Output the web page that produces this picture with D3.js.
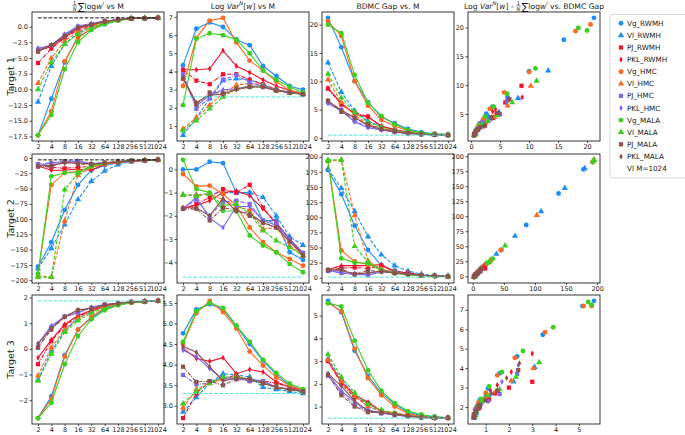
<!DOCTYPE html>
<html><head><meta charset="utf-8">
<script src="https://cdn.jsdelivr.net/npm/d3@7"></script>
<style>
body{margin:0;background:#fff}
text{font-family:"DejaVu Sans",sans-serif;fill:#1a1a1a;white-space:pre}
</style>
</head><body>
<svg id="c" width="685" height="435"></svg>
<script>
// ---------------- DATA ----------------
const M = [2,4,8,16,32,64,128,256,512,1024];
const seriesNames = ["Vg_RWMH","Vl_RWMH","PJ_RWMH","PKL_RWMH","Vg_HMC","Vl_HMC","PJ_HMC","PKL_HMC","Vg_MALA","Vl_MALA","PJ_MALA","PKL_MALA"];
const refLabel = "Vl M=1024";
const targetLabels = ["Target 1","Target 2","Target 3"];

// Target 1
const t1LogW = [
 [-17.3,-11.5,-5.7,-1.5,-0.5,0.4,1.0,1.3,1.35,1.4],
 [-12.0,-6.3,-2.8,-1.0,0.0,0.6,1.1,1.3,1.35,1.4],
 [-5.8,-3.5,-1.8,-0.5,0.2,0.8,1.1,1.3,1.35,1.4],
 [-3.8,-3.2,-1.7,-0.3,0.3,0.8,1.1,1.3,1.35,1.4],
 [-17.3,-13.5,-5.5,-1.8,-0.3,0.5,1.0,1.3,1.35,1.4],
 [-9.0,-5.0,-2.3,-0.8,0.1,0.7,1.1,1.3,1.35,1.4],
 [-3.7,-3.0,-1.3,0.0,0.4,0.9,1.1,1.3,1.35,1.4],
 [-3.4,-3.0,-1.2,0.1,0.5,0.9,1.1,1.3,1.35,1.4],
 [-17.3,-14.1,-6.8,-2.5,-0.5,0.4,1.0,1.3,1.35,1.4],
 [-10.0,-5.7,-2.8,-1.2,-0.1,0.6,1.0,1.3,1.35,1.4],
 [-4.0,-3.0,-1.6,-0.2,0.3,0.8,1.1,1.3,1.35,1.4],
 [-3.8,-2.9,-1.5,-0.1,0.4,0.85,1.1,1.3,1.35,1.4]
];
const t1LogVar = [
 [4.35,6.35,6.7,6.45,5.75,5.45,4.3,3.75,3.2,3.0],
 [0.5,1.45,2.5,3.5,3.6,3.55,3.3,3.0,2.85,2.75],
 [4.1,3.5,3.3,3.85,3.85,3.55,3.3,3.0,2.85,2.75],
 [4.1,4.1,4.15,5.15,4.3,3.95,3.55,3.2,2.95,2.8],
 [3.2,5.85,6.8,6.95,5.6,4.6,4.05,3.45,2.95,2.8],
 [0.85,1.45,2.15,2.8,3.25,3.35,3.25,3.0,2.85,2.75],
 [3.85,1.95,2.55,3.55,3.8,3.4,3.2,3.0,2.85,2.75],
 [3.7,2.1,2.7,3.0,3.05,3.2,3.2,2.95,2.85,2.75],
 [2.15,5.8,6.1,6.0,5.75,5.0,4.05,3.55,3.15,2.85],
 [0.75,1.3,1.95,2.6,3.05,3.15,3.2,2.95,2.85,2.75],
 [3.6,2.2,2.85,2.8,3.05,3.15,3.15,2.95,2.85,2.75],
 [3.65,2.3,2.7,2.75,3.0,3.15,3.15,2.95,2.85,2.75]
];
const t1Gap = [
 [21.2,16.0,10.0,6.3,3.7,2.6,1.6,1.0,0.75,0.6],
 [13.3,8.1,4.8,3.0,2.0,1.4,1.1,0.8,0.65,0.55],
 [8.7,5.9,4.4,3.8,2.0,1.4,1.0,0.75,0.6,0.55],
 [8.8,6.1,4.2,3.7,2.1,1.5,1.0,0.75,0.6,0.55],
 [20.6,18.0,10.0,5.7,3.2,2.1,1.3,0.8,0.65,0.55],
 [10.3,6.3,4.0,2.5,1.7,1.2,0.9,0.7,0.6,0.55],
 [6.3,5.0,3.0,2.0,1.5,1.1,0.8,0.65,0.55,0.5],
 [6.1,4.8,2.8,1.8,1.4,1.0,0.8,0.65,0.55,0.5],
 [20.0,18.5,11.1,6.2,3.9,2.4,1.4,0.9,0.7,0.6],
 [11.3,7.1,4.5,2.8,1.9,1.3,1.0,0.75,0.6,0.55],
 [6.6,4.6,3.5,2.4,1.6,1.2,0.85,0.65,0.55,0.5],
 [6.5,4.9,3.6,2.2,1.5,1.1,0.8,0.65,0.55,0.5]
];
// Target 2
const t2LogW = [
 [-178,-138,-85,-44,-20,-12,-8,-5,-4,-3],
 [-181,-148,-109,-68,-38,-21,-11,-6,-4,-3],
 [-12,-15,-17,-15,-14,-10,-7,-5,-4,-3],
 [-13,-20,-20,-18,-20,-10,-7,-5,-4,-3],
 [-190,-44,-24,-22,-15,-10,-7,-5,-4,-3],
 [-193,-195,-103,-28,-15,-9,-6,-4.5,-3.5,-3],
 [-10,-8,-5,-5,-10,-8,-6,-4.5,-3.5,-3],
 [-13,-8,-8,-5,-9,-8,-6,-4.5,-3.5,-3],
 [-190,-30,-24,-24,-12,-8,-6,-4.5,-3.5,-3],
 [-195,-195,-52,-25,-14,-9,-6,-4.5,-3.5,-3],
 [-14,-14,-6,-10,-10,-8,-6,-4.5,-3.5,-3],
 [-13,-12,-8,-8,-10,-8,-6,-4.5,-3.5,-3]
];
const t2LogVar = [
 [0,0,0.33,0.27,-1.0,-1.0,-2.2,-2.2,-3.57,-3.9],
 [-1.1,-1.1,-1.05,-1.0,-1.0,-1.0,-1.2,-2.0,-2.9,-3.26],
 [-1.7,-1.5,-1.2,-0.85,-1.0,-0.66,-1.64,-2.35,-3.0,-3.6],
 [-1.65,-1.55,-1.35,-1.0,-0.92,-1.13,-1.7,-2.3,-3.0,-3.7],
 [-0.2,-0.73,-0.7,-1.06,-1.56,-2.5,-3.14,-3.57,-3.86,-4.15],
 [-1.1,-1.1,-1.05,-1.3,-1.6,-1.75,-2.57,-2.5,-3.29,-3.72],
 [-1.7,-1.3,-2.0,-1.4,-1.35,-1.49,-2.2,-2.3,-3.0,-3.6],
 [-1.7,-1.2,-2.1,-2.5,-1.6,-1.6,-2.2,-2.4,-3.0,-3.6],
 [0.41,-0.85,-1.0,-1.78,-1.8,-2.85,-3.28,-3.57,-4.07,-4.43],
 [-1.1,-1.15,-1.05,-1.55,-1.5,-1.92,-2.64,-3.07,-3.36,-3.72],
 [-1.7,-1.7,-2.2,-1.65,-1.75,-2.0,-2.3,-2.5,-3.1,-3.7],
 [-1.65,-1.65,-2.0,-1.25,-1.8,-1.9,-2.3,-2.5,-3.1,-3.7]
];
const t2Gap = [
 [178,138,86,46,20,12,7,4,3,2],
 [180,148,110,68,38,20,11,6,4,3],
 [12,16,17,15,20,10,8,4,3,2],
 [13,20,20,20,22,10,8,4,3,2],
 [193,45,27,22,14,9,6,4,3,2],
 [193,195,103,28,14,9,6,4,3,2],
 [11,8,5,5,12,9,6,4,3,2],
 [13,8,7,4,10,8,6,4,3,2],
 [193,32,25,24,12,7,5,3.5,2.5,2],
 [195,195,52,26,13,8,5.5,4,3,2],
 [13,14,6,12,10,8,6,4,3,2],
 [13,12,6,8,11,8,6,4,3,2]
];
// Target 3
const t3LogW = [
 [-2.7,-1.85,-0.25,0.75,1.2,1.55,1.72,1.8,1.84,1.87],
 [-1.2,-0.1,0.7,1.2,1.45,1.65,1.75,1.82,1.85,1.87],
 [-0.6,0.3,0.9,1.25,1.5,1.68,1.77,1.82,1.85,1.87],
 [-0.35,0.35,0.95,1.3,1.5,1.68,1.77,1.82,1.85,1.87],
 [-2.7,-1.95,-0.3,0.75,1.25,1.6,1.73,1.8,1.84,1.87],
 [-1.05,0.05,0.75,1.2,1.45,1.65,1.75,1.82,1.85,1.87],
 [0.05,0.85,1.25,1.45,1.6,1.72,1.78,1.83,1.85,1.87],
 [0.2,0.9,1.25,1.4,1.62,1.73,1.78,1.83,1.85,1.87],
 [-2.7,-2.1,-0.6,0.5,1.15,1.5,1.7,1.8,1.84,1.87],
 [-1.25,-0.2,0.65,1.1,1.4,1.6,1.75,1.82,1.85,1.87],
 [0.05,0.75,1.25,1.5,1.55,1.72,1.78,1.83,1.85,1.87],
 [0.2,0.8,1.25,1.52,1.58,1.72,1.78,1.83,1.85,1.87]
];
const t3LogVar = [
 [4.76,5.34,5.47,5.35,4.93,4.5,4.1,3.75,3.5,3.38],
 [2.85,3.2,3.55,3.78,3.75,3.7,3.45,3.4,3.35,3.3],
 [2.7,3.3,3.6,3.65,3.75,3.6,3.6,3.55,3.45,3.35],
 [4.4,4.15,4.08,4.17,3.78,3.88,3.82,3.58,3.45,3.35],
 [4.5,5.25,5.55,5.28,4.88,4.32,3.98,3.69,3.49,3.38],
 [2.95,3.4,3.55,3.65,3.7,3.65,3.55,3.45,3.4,3.35],
 [3.75,3.52,3.55,3.7,3.65,3.6,3.6,3.45,3.4,3.35],
 [4.35,4.2,3.9,3.65,3.65,3.65,3.6,3.45,3.4,3.35],
 [4.55,5.3,5.5,5.38,4.95,4.56,4.12,3.8,3.54,3.4],
 [3.05,3.35,3.55,3.7,3.7,3.65,3.55,3.45,3.4,3.35],
 [3.95,3.58,3.6,3.5,3.65,3.65,3.55,3.45,3.4,3.35],
 [4.45,4.3,3.95,3.6,3.68,3.65,3.55,3.45,3.4,3.35]
];
const t3Gap = [
 [5.65,5.15,3.45,2.35,1.6,1.1,0.75,0.6,0.55,0.5],
 [3.1,2.2,1.5,1.0,0.8,0.7,0.6,0.55,0.5,0.5],
 [3.0,2.0,1.4,1.15,0.8,0.7,0.6,0.55,0.5,0.5],
 [3.0,2.1,1.5,1.2,0.8,0.72,0.6,0.55,0.5,0.5],
 [5.55,5.2,3.55,2.25,1.5,1.0,0.7,0.55,0.5,0.5],
 [3.05,2.1,1.45,1.0,0.8,0.7,0.6,0.55,0.5,0.5],
 [2.35,1.6,1.1,0.8,0.7,0.62,0.57,0.52,0.5,0.5],
 [2.4,1.7,1.2,0.85,0.72,0.63,0.57,0.52,0.5,0.5],
 [5.55,5.4,3.9,2.6,1.7,1.15,0.8,0.65,0.55,0.5],
 [3.3,2.3,1.6,1.1,0.85,0.7,0.6,0.55,0.5,0.5],
 [2.4,1.5,1.0,0.75,0.72,0.65,0.58,0.52,0.5,0.5],
 [2.45,1.9,1.25,0.8,0.75,0.65,0.58,0.52,0.5,0.5]
];
// Reference (Vl M=1024) levels per target: [mean log w, log var, gap]
const t1Ref = [1.4, 2.6, 0.5];
const t2Ref = [-3, -4.64, 1];
const t3Ref = [1.87, 3.3, 0.49];

// Tick values
const t1Ticks = {a:[0,-2.5,-5,-7.5,-10,-12.5,-15,-17.5], b:[1,2,3,4,5,6,7], c:[0,5,10,15,20], dx:[0,5,10,15,20], dy:[0,5,10,15,20]};
const t2Ticks = {a:[0,-25,-50,-75,-100,-125,-150,-175,-200], b:[0,-1,-2,-3,-4], c:[0,25,50,75,100,125,150,175,200], dx:[0,50,100,150,200], dy:[0,25,50,75,100,125,150,175,200]};
const t3Ticks = {a:[-2,-1,0,1,2], b:[3.0,3.5,4.0,4.5,5.0,5.5], c:[1,2,3,4,5], dx:[1,2,3,4,5], dy:[2,3,4,5,6,7]};

// ---------------- DRAWING ----------------
const targets = [
 {label:targetLabels[0], logW:t1LogW, logVar:t1LogVar, gap:t1Gap, ref:t1Ref, ticks:t1Ticks, fmtA:".1f", fmtB:"d", refColA:"#111"},
 {label:targetLabels[1], logW:t2LogW, logVar:t2LogVar, gap:t2Gap, ref:t2Ref, ticks:t2Ticks, fmtA:"d", fmtB:"d", refColA:"#111"},
 {label:targetLabels[2], logW:t3LogW, logVar:t3LogVar, gap:t3Gap, ref:t3Ref, ticks:t3Ticks, fmtA:"d", fmtB:".1f", refColA:"#48e6d6"}
];
const CYAN = "#48e6d6";
const colLeft = [32, 177, 322, 468], rowTop = [12, 154, 295], PW = 132, PH = 129;
const palette = {
  RWMH:{a:"#1f8ff4", b:"#ee1230"},
  HMC:{a:"#fb6a22", b:"#7b68ee"},
  MALA:{a:"#3ccf1e", b:"#8c5250"}
};
const kindOf = n => n.split("_")[0];
const grpOf = n => n.split("_")[1];
const colorOf = n => { const k = kindOf(n); return palette[grpOf(n)][(k==="Vg"||k==="Vl")?"a":"b"]; };
const dashOf = n => ({Vg:null, Vl:"3.6,1.6", PJ:"4,1.2,1,1.2", PKL:null})[kindOf(n)];
function symPath(n){
  const k = kindOf(n);
  if (k==="Vg") return d3.symbol(d3.symbolCircle, 19)();
  if (k==="Vl") return d3.symbol(d3.symbolTriangle, 17)();
  if (k==="PJ") return d3.symbol(d3.symbolSquare, 18)();
  return "M0,-3L1.75,0L0,3L-1.75,0Z";
}
const svg = d3.select("#c");
function padExt(vals){
  const [mn,mx] = d3.extent(vals); const r = mx-mn; return [mn-0.05*r, mx+0.05*r];
}
function frame(x0,y0){
  svg.append("rect").attr("x",x0).attr("y",y0).attr("width",PW).attr("height",PH)
    .attr("fill","none").attr("stroke","#222").attr("stroke-width",0.9);
}
function styleAxis(g){
  g.attr("font-size",6.5).attr("font-family","DejaVu Sans").attr("color","#222");
  g.select(".domain").remove();
  g.selectAll(".tick line").attr("stroke-width",0.8);
}
function xAxisM(x, y0){
  const g = svg.append("g").attr("transform",`translate(0,${y0+PH})`)
    .call(d3.axisBottom(x).tickValues(M).tickFormat(d3.format("d")).tickSize(2).tickPadding(1.2));
  styleAxis(g);
}
function yAxis(y, x0, ticks, fmt){
  const dom = y.domain();
  const tv = ticks.filter(t => t>=Math.min(...dom) && t<=Math.max(...dom));
  const g = svg.append("g").attr("transform",`translate(${x0},0)`)
    .call(d3.axisLeft(y).tickValues(tv).tickFormat(d3.format(fmt)).tickSize(2.5).tickPadding(1.5));
  styleAxis(g);
}
function linePanel(x0, y0, data, refVal, refCol, ticks, fmt){
  const x = d3.scaleLog().base(2).domain([Math.pow(2,0.55), Math.pow(2,10.45)]).range([x0, x0+PW]);
  const y = d3.scaleLinear().domain(padExt(data.flat().concat([refVal]))).range([y0+PH, y0]);
  const line = d3.line().x((d,i)=>x(M[i])).y(d=>y(d));
  seriesNames.forEach((n,si)=>{
    const c = colorOf(n);
    svg.append("path").attr("d", line(data[si])).attr("fill","none").attr("stroke",c)
      .attr("stroke-width",1.1).attr("stroke-dasharray", dashOf(n));
    svg.append("g").selectAll("path").data(data[si]).join("path")
      .attr("d", symPath(n)).attr("fill",c)
      .attr("transform",(d,i)=>`translate(${x(M[i])},${y(d)})`);
  });
  svg.append("line").attr("x1",x(M[0])).attr("x2",x(M[M.length-1]))
    .attr("y1",y(refVal)).attr("y2",y(refVal)).attr("stroke",refCol).attr("stroke-width",1)
    .attr("stroke-dasharray","3.6,1.6");
  frame(x0,y0);
  xAxisM(x,y0);
  yAxis(y,x0,ticks,fmt);
}
function scatterPanel(x0, y0, T){
  const pts = [];
  seriesNames.forEach((n,si)=>{
    M.forEach((m,i)=>pts.push({n, gx:T.gap[si][i], gy:T.logVar[si][i]-T.logW[si][i]}));
  });
  const x = d3.scaleLinear().domain(padExt(pts.map(p=>p.gx))).range([x0,x0+PW]);
  const y = d3.scaleLinear().domain(padExt(pts.map(p=>p.gy))).range([y0+PH,y0]);
  svg.append("g").selectAll("path").data(pts).join("path")
    .attr("d", p=>symPath(p.n)).attr("fill", p=>colorOf(p.n))
    .attr("transform", p=>`translate(${x(p.gx)},${y(p.gy)})`);
  frame(x0,y0);
  const tvx = T.ticks.dx.filter(t=>t>=x.domain()[0] && t<=x.domain()[1]);
  const gx = svg.append("g").attr("transform",`translate(0,${y0+PH})`)
    .call(d3.axisBottom(x).tickValues(tvx).tickFormat(d3.format("d")).tickSize(2).tickPadding(1.2));
  styleAxis(gx);
  yAxis(y,x0,T.ticks.dy,"d");
}
targets.forEach((T,r)=>{
  const y0 = rowTop[r];
  linePanel(colLeft[0], y0, T.logW, T.ref[0], T.refColA, T.ticks.a, T.fmtA);
  linePanel(colLeft[1], y0, T.logVar, T.ref[1], CYAN, T.ticks.b, T.fmtB);
  linePanel(colLeft[2], y0, T.gap, T.ref[2], CYAN, T.ticks.c, "d");
  scatterPanel(colLeft[3], y0, T);
  svg.append("text").attr("transform",`translate(13.5,${y0+PH/2}) rotate(-90)`)
    .attr("text-anchor","middle").attr("font-size",9.5).text(T.label);
});

// titles
function title(cx, y, parts){
  const tg = svg.append("g");
  let x = 0;
  parts.forEach(p=>{
    if (p.frac){
      const a = tg.append("text").attr("y",-3.7).attr("font-size",5).text(p.frac[0]);
      const b = tg.append("text").attr("y",1.9).attr("font-size",5).attr("font-style","italic").text(p.frac[1]);
      const wa = a.node().getComputedTextLength(), wb = b.node().getComputedTextLength();
      const w = Math.max(wa,wb)+1;
      a.attr("x", x+(w-wa)/2); b.attr("x", x+(w-wb)/2);
      tg.append("line").attr("x1",x).attr("x2",x+w).attr("y1",-2.7).attr("y2",-2.7).attr("stroke","#1a1a1a").attr("stroke-width",0.5);
      x += w+0.8;
    } else {
      const t = tg.append("text").attr("x",x)
        .attr("y", p.sup ? -3.6 : (p.sum ? 1.6 : 0))
        .attr("font-size", p.sup ? 5.2 : (p.sum ? 10 : 7.6))
        .attr("font-style", p.it ? "italic" : null).text(p.t);
      x += t.node().getComputedTextLength();
    }
  });
  tg.attr("transform",`translate(${cx - x/2},${y})`);
}
const TY = 8.6;
title(colLeft[0]+PW/2, TY, [{frac:["1","N"]},{t:"∑",sum:true},{t:"log"},{t:"w",it:true},{t:"i",sup:true,it:true},{t:" vs M"}]);
title(colLeft[1]+PW/2, TY, [{t:"Log "},{t:"Var",it:true},{t:"N",sup:true,it:true},{t:"["},{t:"w",it:true},{t:"] vs M"}]);
title(colLeft[2]+PW/2, TY, [{t:"BDMC Gap vs. M"}]);
title(colLeft[3]+PW/2, TY, [{t:"Log "},{t:"Var",it:true},{t:"N",sup:true,it:true},{t:"["},{t:"w",it:true},{t:"] - "},{frac:["1","N"]},{t:"∑",sum:true},{t:"log"},{t:"w",it:true},{t:"i",sup:true,it:true},{t:" vs. BDMC Gap"}]);

// legend
const lg = svg.append("g");
lg.append("rect").attr("x",610).attr("y",14.5).attr("width",90).attr("height",163.5)
  .attr("rx",2).attr("fill","#fff").attr("stroke","#cfcfcf").attr("stroke-width",0.8);
const legendItems = seriesNames.concat([refLabel]);
legendItems.forEach((n,i)=>{
  const yy = 23.3 + i*12.1;
  if (i < seriesNames.length)
    lg.append("path").attr("d", symPath(n)).attr("fill", colorOf(n)).attr("transform",`translate(621,${yy})`);
  lg.append("text").attr("x",627).attr("y",yy).attr("dy","0.35em").attr("font-size",7.2).text(n);
});
</script>
</body></html>
